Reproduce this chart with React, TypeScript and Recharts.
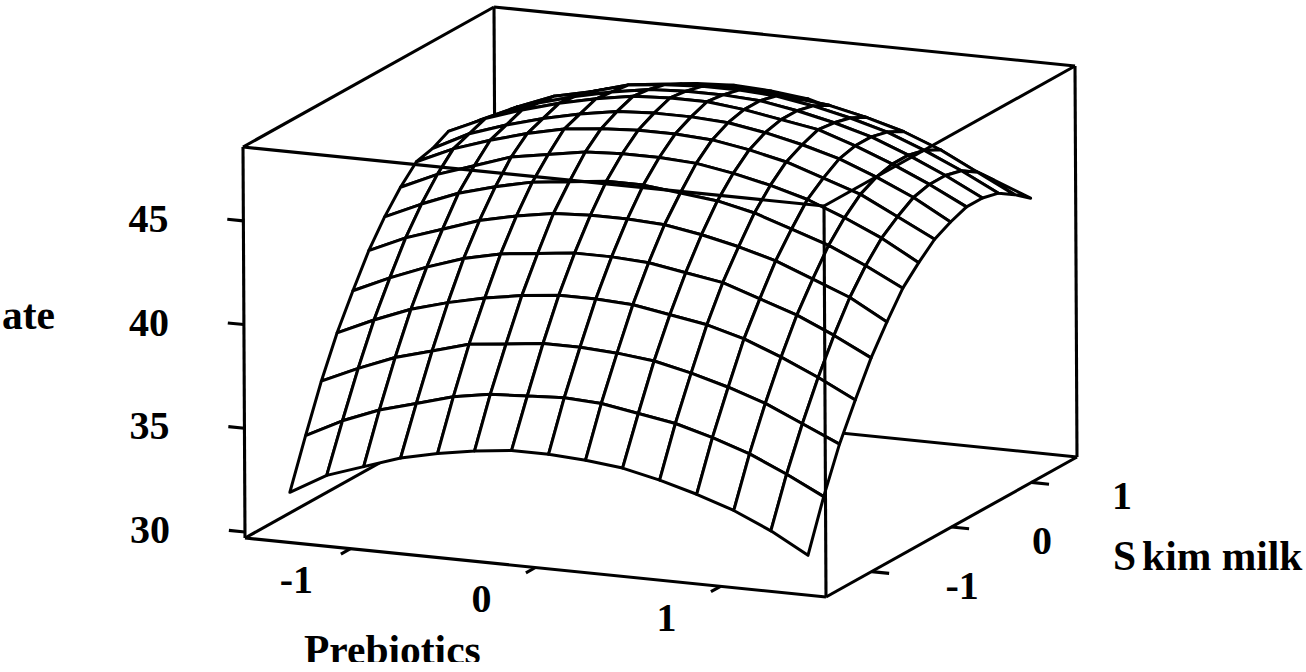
import React from 'react';
import { ScatterChart, Scatter, XAxis, YAxis } from 'recharts';

// ---- data -----------------------------------------------------------
const prebioticsLevels = [-1.4, -1.2, -1.0, -0.8, -0.6, -0.4, -0.2, 0, 0.2, 0.4, 0.6, 0.8, 1.0, 1.2, 1.4];
const skimMilkLevels = [-1.4, -1.2, -1.0, -0.8, -0.6, -0.4, -0.2, 0, 0.2, 0.4, 0.6, 0.8, 1.0, 1.2, 1.4];

// response value for each prebiotics level, one array per skim milk level
const rateSkimM14 = [31.7, 32.7, 33.3, 33.9, 34.3, 34.6, 34.8, 34.8, 34.7, 34.5, 34.1, 33.6, 33.0, 32.2, 31.2];
const rateSkimM12 = [34.0, 34.9, 35.6, 36.1, 36.6, 36.9, 37.0, 37.1, 37.0, 36.7, 36.4, 35.9, 35.3, 34.5, 33.6];
const rateSkimM10 = [36.2, 37.0, 37.7, 38.2, 38.7, 38.9, 39.1, 39.1, 39.0, 38.8, 38.4, 37.9, 37.3, 36.5, 35.7];
const rateSkimM08 = [38.1, 38.9, 39.6, 40.1, 40.5, 40.8, 41.0, 41.0, 40.9, 40.6, 40.3, 39.8, 39.1, 38.3, 37.4];
const rateSkimM06 = [39.7, 40.5, 41.2, 41.8, 42.2, 42.4, 42.6, 42.6, 42.5, 42.2, 41.9, 41.3, 40.7, 39.9, 39.0];
const rateSkimM04 = [41.2, 42.0, 42.6, 43.2, 43.6, 43.9, 44.0, 44.0, 43.9, 43.6, 43.2, 42.7, 42.0, 41.3, 40.3];
const rateSkimM02 = [42.4, 43.2, 43.9, 44.4, 44.8, 45.0, 45.2, 45.2, 45.0, 44.8, 44.4, 43.8, 43.2, 42.4, 41.5];
const rateSkim00 = [43.4, 44.2, 44.8, 45.4, 45.7, 46.0, 46.1, 46.1, 46.0, 45.7, 45.3, 44.8, 44.1, 43.3, 42.3];
const rateSkimP02 = [44.2, 45.0, 45.6, 46.1, 46.5, 46.7, 46.8, 46.8, 46.7, 46.4, 46.0, 45.4, 44.8, 43.9, 43.0];
const rateSkimP04 = [44.4, 45.3, 45.9, 46.4, 46.8, 47.1, 47.2, 47.2, 47.1, 46.8, 46.4, 45.9, 45.2, 44.4, 43.4];
const rateSkimP06 = [44.8, 45.6, 46.2, 46.7, 47.1, 47.4, 47.5, 47.5, 47.3, 47.0, 46.7, 46.1, 45.4, 44.6, 43.7];
const rateSkimP08 = [44.6, 45.4, 46.1, 46.6, 47.0, 47.3, 47.4, 47.4, 47.3, 47.0, 46.6, 46.1, 45.4, 44.6, 43.7];
const rateSkimP10 = [44.5, 45.3, 46.0, 46.4, 46.9, 47.1, 47.2, 47.2, 47.1, 46.8, 46.4, 45.9, 45.2, 44.4, 43.5];
const rateSkimP12 = [44.2, 44.9, 45.6, 46.1, 46.5, 46.7, 46.8, 46.8, 46.6, 46.4, 46.0, 45.5, 44.8, 43.9, 43.0];
const rateSkimP14 = [44.1, 44.8, 45.3, 45.7, 46.0, 46.3, 46.4, 46.3, 46.1, 45.6, 45.2, 44.6, 43.8, 43.1, 42.4];

const rateRows = [
  rateSkimM14, rateSkimM12, rateSkimM10, rateSkimM08, rateSkimM06, rateSkimM04, rateSkimM02,
  rateSkim00, rateSkimP02, rateSkimP04, rateSkimP06, rateSkimP08, rateSkimP10, rateSkimP12, rateSkimP14,
];

const prebioticsTicks = [-1, 0, 1];
const skimMilkTicks = [-1, 0, 1];
const rateTicks = [30, 35, 40, 45];

const prebioticsRange = [-1.57, 1.57];
const skimMilkRange = [-1.57, 1.57];
const rateRange = [29.71, 48.56];

// ---- projection (layout) ---------------------------------------------
const W = 1306;
const H = 662;
const ORIGIN = [245, 538];
const P_VEC = [581, 59];
const S_VEC = [251, -140];
const Z_VEC = [-2, -391];

const frac = (v: number, r: number[]) => (v - r[0]) / (r[1] - r[0]);

function project(p: number, s: number, z: number) {
  const u = frac(p, prebioticsRange);
  const v = frac(s, skimMilkRange);
  const w = frac(z, rateRange);
  return {
    x: ORIGIN[0] + u * P_VEC[0] + v * S_VEC[0] + w * Z_VEC[0],
    y: ORIGIN[1] + u * P_VEC[1] + v * S_VEC[1] + w * Z_VEC[1],
  };
}

const corner = (a: number, b: number, c: number) =>
  project(prebioticsRange[a], skimMilkRange[b], rateRange[c]);

// surface cells, sorted back to front
type Cell = { key: string; depth: number; pts: { x: number; y: number }[] };
const cells: Cell[] = [];
for (let j = 0; j < skimMilkLevels.length - 1; j++) {
  for (let i = 0; i < prebioticsLevels.length - 1; i++) {
    const q = [
      [i, j],
      [i + 1, j],
      [i + 1, j + 1],
      [i, j + 1],
      [i, j],
    ];
    const pts = q.map(([a, b]) => project(prebioticsLevels[a], skimMilkLevels[b], rateRows[b][a]));
    const uc = frac((prebioticsLevels[i] + prebioticsLevels[i + 1]) / 2, prebioticsRange);
    const vc = frac((skimMilkLevels[j] + skimMilkLevels[j + 1]) / 2, skimMilkRange);
    cells.push({ key: `c${i}_${j}`, depth: vc * 581 - uc * 251, pts });
  }
}
cells.sort((a, b) => b.depth - a.depth);

const backEdges = [
  [corner(0, 1, 0), corner(0, 1, 1)],
  [corner(0, 0, 0), corner(0, 1, 0)],
  [corner(1, 1, 0), corner(0, 1, 0)],
];
const frontEdges = [
  [corner(0, 0, 0), corner(1, 0, 0)],
  [corner(1, 0, 0), corner(1, 1, 0)],
  [corner(0, 0, 0), corner(0, 0, 1)],
  [corner(1, 0, 0), corner(1, 0, 1)],
  [corner(1, 1, 0), corner(1, 1, 1)],
  [corner(0, 0, 1), corner(0, 1, 1)],
  [corner(0, 1, 1), corner(1, 1, 1)],
  [corner(1, 1, 1), corner(1, 0, 1)],
  [corner(0, 0, 1), corner(1, 0, 1)],
];

const tickSegments = [
  ...rateTicks.map((z) => [
    project(prebioticsRange[0], skimMilkRange[0], z),
    project(prebioticsRange[0] - 0.087, skimMilkRange[0], z),
  ]),
  ...prebioticsTicks.map((p) => [
    project(p, skimMilkRange[0], rateRange[0]),
    project(p, skimMilkRange[0] - 0.12, rateRange[0]),
  ]),
  ...skimMilkTicks.map((s) => [
    project(prebioticsRange[1], s, rateRange[0]),
    project(prebioticsRange[1] + 0.095, s, rateRange[0]),
  ]),
];

const rateLabels = rateTicks.map((z) => ({ ...project(prebioticsRange[0], skimMilkRange[0], z), label: String(z) }));
const prebioticsLabels = prebioticsTicks.map((p) => ({ ...project(p, skimMilkRange[0], rateRange[0]), label: String(p) }));
const skimMilkLabels = skimMilkTicks.map((s) => ({ ...project(prebioticsRange[1], s, rateRange[0]), label: String(s) }));
const prebioticsTitle = [{ ...project(0, skimMilkRange[0], rateRange[0]), label: 'Prebiotics' }];
const skimMilkTitle = [{ ...project(prebioticsRange[1], 0, rateRange[0]), label: 'Skim milk' }];
const rateTitle = [{ ...project(prebioticsRange[0], skimMilkRange[0], 40), label: 'ate' }];

// ---- render helpers --------------------------------------------------
const FONT = "'Liberation Serif', 'Times New Roman', serif";
const noShape = () => <g />;

const CellPath = (props: any) => {
  const pts = props.points || [];
  const d = pts.map((pt: any, k: number) => `${k ? 'L' : 'M'}${pt.x},${pt.y}`).join('') + 'Z';
  return <path d={d} fill="#ffffff" stroke="#000000" strokeWidth={3} strokeLinejoin="round" />;
};

const SegPath = (props: any) => {
  const pts = props.points || [];
  const d = pts.map((pt: any, k: number) => `${k ? 'L' : 'M'}${pt.x},${pt.y}`).join('');
  return <path d={d} fill="none" stroke="#000000" strokeWidth={3.1} strokeLinecap="butt" />;
};

const labelShape = (dx: number, dy: number, size: number, anchor: string) => (props: any) => {
  const label = (props.payload && props.payload.label) ?? props.label;
  return (
    <text
      x={props.cx + dx}
      y={props.cy + dy}
      textAnchor={anchor as any}
      fontFamily={FONT}
      fontWeight={700}
      fontSize={size}
      fill="#000"
    >
      {label}
    </text>
  );
};

const skimTitleShape = (props: any) => (
  <text x={props.cx + 161.5} y={props.cy + 43} fontFamily={FONT} fontWeight={700} fontSize={41.5} fill="#000">
    <tspan>S</tspan>
    <tspan dx={6}>kim milk</tspan>
  </text>
);

export default function App() {
  return (
    <div style={{ position: 'absolute', left: 0, top: 0, width: W, height: H, background: '#fff' }}>
      <ScatterChart width={W} height={H} margin={{ top: 0, right: 0, bottom: 0, left: 0 }}>
        <XAxis type="number" dataKey="x" domain={[0, W]} ticks={[0, W]} allowDataOverflow hide />
        <YAxis type="number" dataKey="y" domain={[0, H]} ticks={[0, H]} allowDataOverflow reversed hide />
        {backEdges.map((seg, k) => (
          <Scatter key={`be${k}`} data={seg} line={<SegPath />} shape={noShape} isAnimationActive={false} legendType="none" />
        ))}
        {cells.map((c) => (
          <Scatter key={c.key} data={c.pts} line={<CellPath />} shape={noShape} isAnimationActive={false} legendType="none" />
        ))}
        {frontEdges.map((seg, k) => (
          <Scatter key={`fe${k}`} data={seg} line={<SegPath />} shape={noShape} isAnimationActive={false} legendType="none" />
        ))}
        {tickSegments.map((seg, k) => (
          <Scatter key={`tk${k}`} data={seg} line={<SegPath />} shape={noShape} isAnimationActive={false} legendType="none" />
        ))}
        <Scatter data={rateLabels} shape={labelShape(-95, 11, 40, 'middle')} isAnimationActive={false} legendType="none" />
        <Scatter data={prebioticsLabels} shape={labelShape(-54, 44.5, 40, 'middle')} isAnimationActive={false} legendType="none" />
        <Scatter data={skimMilkLabels} shape={labelShape(90.5, 27, 40, 'middle')} isAnimationActive={false} legendType="none" />
        <Scatter data={prebioticsTitle} shape={labelShape(-231.5, 96, 41.5, 'start')} isAnimationActive={false} legendType="none" />
        <Scatter data={skimMilkTitle} shape={skimTitleShape} isAnimationActive={false} legendType="none" />
        <Scatter data={rateTitle} shape={labelShape(-189, 4, 41.5, 'end')} isAnimationActive={false} legendType="none" />
      </ScatterChart>
    </div>
  );
}
